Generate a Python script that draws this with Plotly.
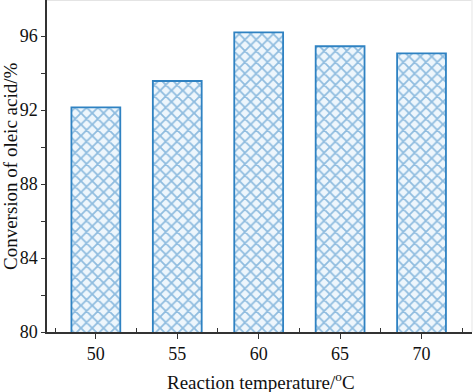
import plotly.graph_objects as go

temperatures = [50, 55, 60, 65, 70]
conversion = [92.15, 93.57, 96.2, 95.45, 95.06]
x_ticks = [50, 55, 60, 65, 70]
x_minor = [47.5, 52.5, 57.5, 62.5, 67.5, 72.5]
y_ticks = [80, 84, 88, 92, 96]
y_minor = [82, 86, 90, 94]

blue = "#2f82c2"
font = "Liberation Serif, Times New Roman, DejaVu Serif, serif"

fig = go.Figure()
fig.add_trace(go.Bar(
    x=temperatures, y=conversion, width=3,
    marker=dict(
        color="#eef6fc",
        line=dict(color=blue, width=1.8),
        pattern=dict(shape="x", fgcolor=blue, bgcolor="#eef6fc", size=8, solidity=0.4),
    ),
))

fig.update_layout(
    width=474, height=392,
    margin=dict(l=47, r=2, t=0, b=60, autoexpand=False),
    paper_bgcolor="white", plot_bgcolor="white",
    showlegend=False,
    font=dict(family=font, color="#111111"),
    xaxis=dict(
        range=[47, 73.1], showgrid=False, zeroline=False, automargin=False,
        showline=True, linecolor="#333333", linewidth=1.5,
        tickvals=x_ticks, ticks="outside", ticklen=5, tickwidth=1.2, tickcolor="#333333",
        tickfont=dict(size=18, family=font, color="#111111"),
        minor=dict(tickvals=x_minor, ticks="inside", ticklen=4, tickwidth=1.2, tickcolor="#333333"),
    ),
    yaxis=dict(
        range=[80, 97.95], showgrid=False, zeroline=False, automargin=False,
        showline=True, linecolor="#333333", linewidth=1.5,
        tickvals=y_ticks, ticks="outside", ticklen=4, tickwidth=1.2, tickcolor="#333333",
        tickfont=dict(size=18, family=font, color="#111111"),
        minor=dict(tickvals=y_minor, ticks="outside", ticklen=4, tickwidth=1.2, tickcolor="#333333"),
    ),
)

fig.add_annotation(text="Reaction temperature/<sup>o</sup>C", xref="paper", yref="paper",
                   x=0.503, y=-0.147, xanchor="center", yanchor="middle", showarrow=False,
                   font=dict(size=19, family=font, color="#111111"))
fig.add_annotation(text="Conversion of oleic acid/%", xref="paper", yref="paper",
                   x=-0.087, y=0.5, xanchor="center", yanchor="middle", showarrow=False,
                   textangle=-90, font=dict(size=19, family=font, color="#111111"))

# faint frame edges at top and right
fig.add_shape(type="line", xref="paper", yref="paper", x0=0, x1=1, y0=1, y1=1,
              line=dict(color="#e4e4e4", width=2))
fig.add_shape(type="line", xref="paper", yref="paper", x0=1, x1=1, y0=0, y1=1,
              line=dict(color="#eeeeee", width=1.5))

fig.write_html("out.html", config={"displayModeBar": False},
               post_script="document.body.style.margin='0';document.body.style.padding='0';")
